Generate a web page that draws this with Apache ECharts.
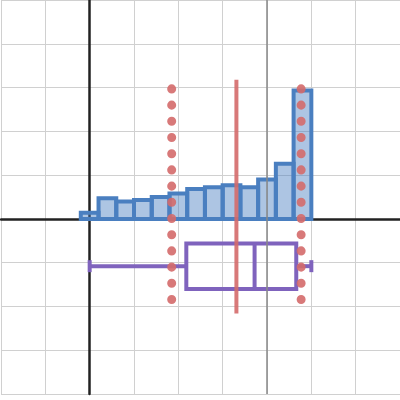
<!DOCTYPE html>
<html>
<head>
    <meta charset="UTF-8">
    <script src="https://cdn.jsdelivr.net/npm/echarts@6/dist/echarts.min.js"></script>
</head>
<body style="margin:0">
    <div id="main" style="width:400px;height:400px;"></div>
    <script>
        // histogram bins (left edge), width 0.4
        var binStarts = [-0.2, 0.2, 0.6, 1.0, 1.4, 1.8, 2.2, 2.6, 3.0, 3.4, 3.8, 4.2, 4.6];
        var binHeights = [0.14, 0.47, 0.4, 0.43, 0.5, 0.58, 0.68, 0.72, 0.77, 0.72, 0.9, 1.26, 2.93];
        var binWidth = 0.4;
        // box plot: min, q1, median, q3, max, y centre, half height
        var boxStats = [0, 2.18, 3.72, 4.66, 5.0];
        var boxY = -1.08, boxHalf = 0.52;
        // red lines
        var dottedX = [1.85, 4.77];
        var dottedY = [2.97, -2.12];
        var meanX = 3.31;
        var meanY = [3.18, -2.16];

        var chart = echarts.init(document.getElementById('main'));
        var blue = '#4a7fc0', purple = '#7f63bd', red = '#d46a6a';

        var option = {
            animation: false,
            backgroundColor: '#fff',
            grid: { left: 1, right: -1, top: -6, bottom: 6 },
            xAxis: {
                type: 'value', min: -2, max: 7, interval: 1,
                axisLabel: { show: false }, axisTick: { show: false },
                axisLine: { onZero: true, lineStyle: { color: '#222', width: 2.5 } },
                splitLine: { lineStyle: { color: '#d0d0d0' } }
            },
            yAxis: {
                type: 'value', min: -4, max: 5, interval: 1,
                axisLabel: { show: false }, axisTick: { show: false },
                axisLine: { onZero: true, lineStyle: { color: '#222', width: 2.5 } },
                splitLine: { lineStyle: { color: '#d0d0d0' } }
            },
            series: [
                {
                    type: 'line', data: [[4, -4], [4, 5]], symbol: 'none', silent: true,
                    lineStyle: { color: '#888', width: 1.5 }
                },
                {
                    type: 'custom',
                    data: binStarts.map(function (s, i) { return [s, binHeights[i]]; }),
                    renderItem: function (params, api) {
                        var p0 = api.coord([api.value(0), 0]);
                        var p1 = api.coord([api.value(0) + binWidth, api.value(1)]);
                        return {
                            type: 'rect',
                            shape: { x: p0[0], y: p1[1], width: p1[0] - p0[0], height: p0[1] - p1[1] },
                            style: { fill: 'rgba(74,127,192,0.45)', stroke: blue, lineWidth: 4 }
                        };
                    }
                },
                {
                    type: 'custom',
                    data: [boxStats],
                    renderItem: function (params, api) {
                        var mn = api.coord([boxStats[0], boxY]);
                        var q1 = api.coord([boxStats[1], boxY + boxHalf]);
                        var md = api.coord([boxStats[2], boxY]);
                        var q3 = api.coord([boxStats[3], boxY - boxHalf]);
                        var mx = api.coord([boxStats[4], boxY]);
                        var st = { stroke: purple, lineWidth: 4, fill: 'none' };
                        var cap = 6;
                        return {
                            type: 'group',
                            children: [
                                { type: 'line', shape: { x1: mn[0], y1: mn[1], x2: q1[0], y2: mn[1] }, style: st },
                                { type: 'line', shape: { x1: q3[0], y1: mn[1], x2: mx[0], y2: mn[1] }, style: st },
                                { type: 'line', shape: { x1: mn[0], y1: mn[1] - cap, x2: mn[0], y2: mn[1] + cap }, style: st },
                                { type: 'line', shape: { x1: mx[0], y1: mx[1] - cap, x2: mx[0], y2: mx[1] + cap }, style: st },
                                { type: 'rect', shape: { x: q1[0], y: q1[1], width: q3[0] - q1[0], height: q3[1] - q1[1] }, style: st },
                                { type: 'line', shape: { x1: md[0], y1: q1[1], x2: md[0], y2: q3[1] }, style: st }
                            ]
                        };
                    }
                },
                {
                    type: 'line', data: [[meanX, meanY[0]], [meanX, meanY[1]]], symbol: 'none',
                    lineStyle: { color: red, width: 4, opacity: 0.9 }
                },
                {
                    type: 'line', data: [[dottedX[0], dottedY[0]], [dottedX[0], dottedY[1]]], symbol: 'none',
                    lineStyle: { color: red, width: 9, type: [0.1, 16.1], cap: 'round', opacity: 0.9 }
                },
                {
                    type: 'line', data: [[dottedX[1], dottedY[0]], [dottedX[1], dottedY[1]]], symbol: 'none',
                    lineStyle: { color: red, width: 9, type: [0.1, 16.1], cap: 'round', opacity: 0.9 }
                }
            ]
        };
        chart.setOption(option);
    </script>
</body>
</html>
